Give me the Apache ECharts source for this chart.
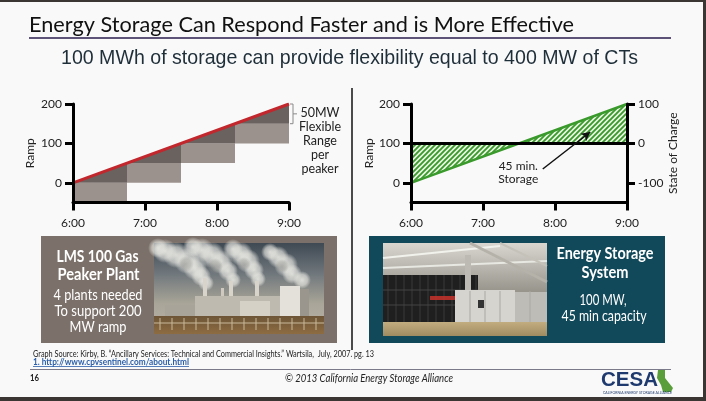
<!DOCTYPE html>
<html><head><meta charset="utf-8">
<script src="https://cdn.jsdelivr.net/npm/echarts@6/dist/echarts.min.js"></script>
<style>html,body{margin:0;padding:0;background:#f9f9f9}#c{width:706px;height:401px}</style>
</head><body><div id="c"></div>
<script>
// ---- data ----
const hours = [6, 7, 8, 9];
const rampTicks = [0, 100, 200];
const socTicks = [-100, 0, 100];
const peakerStart = [6, 6.75, 7.5, 8.25];
const peakerEnd = [6.75, 7.5, 8.25, 9];
const peakerLow = [-50, 0, 50, 100];
const peakerMid = [0, 50, 100, 150];
const peakerTop = [50, 100, 150, 200];
const rampTimes = [6, 9];
const rampValues = [0, 200];
const storageTimes = [6, 7.5, 9];
const storageRamp = [0, 100, 200];
const storageBaseline = 100;
const arrowFrom = [7.83, 35];
const arrowTo = [8.49, 129];
const flexRange = [150, 200];
const storageLabelAt = [7.49, 25];

// ---- helpers ----
const FONT = 'Lato';
const mctx = document.createElement('canvas').getContext('2d');
function txt(text, x, y, o) {
  const st = o.style || 'normal', wt = o.weight || 'normal', fam = o.family || FONT;
  let sx = 1;
  if (o.width) { mctx.font = `${st} ${wt} ${o.size}px ${fam}`; sx = o.width / mctx.measureText(text).width; }
  const al = o.align || 'left';
  return { type: 'text', x: x, y: y, scaleX: sx, z: o.z || 5, silent: true,
    style: { text: text, fill: o.color || '#222', fontSize: o.size, fontFamily: fam, fontWeight: wt, fontStyle: st,
      align: al, textAlign: al, verticalAlign: 'middle', textVerticalAlign: 'middle' } };
}
function rect(x, y, w, h, fill, z) { return { type: 'rect', silent: true, z: z || 3, shape: { x, y, width: w, height: h }, style: { fill } }; }
function puff(cx, cy, r, rgb, a) {
  return { type: 'circle', silent: true, z: 4, shape: { cx, cy, r },
    style: { fill: { type: 'radial', x: 0.5, y: 0.5, r: 0.5, colorStops: [
      { offset: 0, color: `rgba(${rgb},${a})` }, { offset: 0.6, color: `rgba(${rgb},${a * 0.7})` }, { offset: 1, color: `rgba(${rgb},0)` }] } } };
}
function ln(x1, y1, x2, y2, stroke, w, z) { return { type: 'line', silent: true, z: z || 4, shape: { x1, y1, x2, y2 }, style: { stroke, lineWidth: w } }; }
function vgrad(stops) { return { type: 'linear', x: 0, y: 0, x2: 0, y2: 1, colorStops: stops.map((c, i) => ({ offset: i / (stops.length - 1), color: c })) }; }

// hatch pattern
const pat = document.createElement('canvas'); pat.width = 5; pat.height = 5;
const pc = pat.getContext('2d');
pc.fillStyle = '#eaf4e4'; pc.fillRect(0, 0, 5, 5);
pc.strokeStyle = '#3a9a2c'; pc.lineWidth = 1.9;
pc.beginPath(); pc.moveTo(-1, 6); pc.lineTo(6, -1); pc.moveTo(-1, 1); pc.lineTo(1, -1); pc.moveTo(4, 6); pc.lineTo(6, 4); pc.stroke();
const hatch = { image: pat, repeat: 'repeat' };

// ---- slide graphics ----
const G = [];
// frame
G.push(rect(0, 0, 706, 2, '#3b3633', 1), rect(703, 0, 3, 401, '#3b3633', 1), rect(0, 397, 706, 4, '#3b3633', 1));
// title
G.push(txt('Energy Storage Can Respond Faster and is More Effective', 29, 25, { size: 22, color: '#111', width: 545 }));
G.push(ln(29, 38, 671, 38, '#5d5378', 2));
G.push(txt('100 MWh of storage can provide flexibility equal to 400 MW of CTs', 349.5, 58, { size: 21, family: 'Liberation Sans', color: '#1f2f3a', align: 'center', width: 577 }));
// divider
G.push(ln(352, 88, 352, 350, '#111', 1.5));
// left box
G.push(rect(41, 236, 296, 107, '#7b706a', 2));
// left photo (approximation)
G.push(rect(154, 243, 170, 91, vgrad(['#3f4953', '#6f777c', '#a9a598', '#b9b3a6']), 3));
// smoke plumes (soft puffs)
[[206, 283, 8], [201, 276, 10], [195, 268, 12], [187, 261, 13], [176, 255, 13], [165, 251, 12], [158, 248, 10],
 [233, 280, 8], [228, 271, 10], [221, 262, 12], [212, 255, 13], [202, 250, 12], [193, 247, 10],
 [258, 279, 8], [254, 270, 10], [248, 261, 12], [241, 254, 12], [233, 249, 10],
 [292, 274, 10], [286, 265, 12], [278, 257, 11], [302, 280, 9], [270, 252, 9]].forEach(c => G.push(puff(c[0], c[1], c[2], '232,232,226', 0.9)));
[[186, 264, 8], [215, 266, 8], [244, 264, 7], [282, 266, 7]].forEach(c => G.push(puff(c[0], c[1], c[2], '140,140,136', 0.5)));
G.push(rect(203, 278, 4, 40, '#d9d4ca', 5), rect(229, 281, 4, 37, '#d9d4ca', 5), rect(255, 281, 4, 37, '#d9d4ca', 5), rect(221, 288, 3, 30, '#cfc9bf', 5));
G.push(rect(165, 305, 30, 13, '#a8a49a', 5), rect(195, 296, 85, 22, '#bfbab0', 5), rect(240, 301, 30, 17, '#d6d1c6', 5),
  rect(280, 286, 20, 32, '#e4e1da', 5), rect(300, 289, 9, 29, '#9a968e', 5));
G.push(rect(154, 316, 170, 18, vgrad(['#6d5536', '#8d6c42']), 5));
G.push(ln(154, 323, 324, 323, '#c8b89a', 1, 6));
for (let x = 160; x < 324; x += 12) G.push(ln(x, 318, x, 330, '#c8b89a', 1, 6));
// left box text
G.push(txt('LMS 100 Gas', 97.5, 257, { size: 17, weight: 'bold', color: '#fff', align: 'center', width: 82 }));
G.push(txt('Peaker Plant', 98.5, 274.5, { size: 17, weight: 'bold', color: '#fff', align: 'center', width: 82 }));
G.push(txt('4 plants needed', 98, 295, { size: 15, color: '#fff', align: 'center', width: 89 }));
G.push(txt('To support 200', 98, 311, { size: 15, color: '#fff', align: 'center', width: 87 }));
G.push(txt('MW ramp', 98, 327, { size: 15, color: '#fff', align: 'center', width: 57 }));
// right box
G.push(rect(369, 236, 296, 107, '#11495a', 2));
G.push(rect(383, 243, 164, 93, vgrad(['#d9d7d0', '#9a978f', '#6c6862']), 3));
G.push(ln(383, 258, 500, 246, '#f2f2ec', 2, 4), ln(383, 268, 547, 261, '#e8e8e2', 2, 4), ln(470, 243, 547, 282, '#b5b2aa', 3, 4), ln(500, 243, 547, 266, '#c5c2ba', 2, 4));
G.push(rect(383, 275, 95, 50, '#1f1f1f', 5));
for (let x = 388; x < 478; x += 8) G.push(ln(x, 275, x, 325, '#3a3a3a', 1, 6));
G.push(ln(383, 290, 478, 290, '#454545', 1, 6), ln(383, 305, 478, 305, '#454545', 1, 6));
G.push(rect(430, 296, 40, 4, 'rgba(200,50,45,0.85)', 7));
G.push(rect(465, 255, 6, 40, '#bdbab3', 6));
G.push(rect(455, 290, 60, 35, '#d5d4cf', 7), rect(515, 292, 32, 32, '#bdbcb6', 7));
[470, 485, 500, 530].forEach(x => G.push(ln(x, 291, x, 324, '#a9a8a3', 1, 8)));
G.push(rect(478, 300, 6, 8, '#333', 8));
G.push(rect(383, 322, 164, 14, vgrad(['#c2ad80', '#a08a60']), 8));
G.push(txt('Energy Storage', 605, 254, { size: 17, weight: 'bold', color: '#fff', align: 'center', width: 97 }));
G.push(txt('System', 605, 273, { size: 17, weight: 'bold', color: '#fff', align: 'center', width: 47 }));
G.push(txt('100 MW,', 603, 300, { size: 15, color: '#fff', align: 'center', width: 47 }));
G.push(txt('45 min capacity', 604, 316, { size: 15, color: '#fff', align: 'center', width: 85 }));
// footer
G.push(txt('Graph Source: Kirby, B. \u201cAncillary Services: Technical and Commercial Insights.\u201d Wartsila,  July, 2007. pg. 13', 33, 354, { size: 9, color: '#222', width: 341 }));
G.push(txt('1. http://www.cpvsentinel.com/about.html', 33, 362, { size: 9, weight: 'bold', color: '#2a5ea8', width: 156 }));
G.push(ln(33, 366.5, 189, 366.5, '#2a5ea8', 0.8));
G.push(ln(30, 369.5, 671, 369.5, '#7a7a8a', 1));
G.push(txt('16', 30, 378, { size: 9, weight: 'bold', color: '#222', width: 9 }));
G.push(txt('\u00a9 2013 California Energy Storage Alliance', 369, 378, { size: 11, style: 'italic', color: '#222', align: 'center', width: 168 }));
G.push(txt('CESA', 601, 380, { size: 21, weight: 'bold', family: 'Liberation Sans', color: '#1e3a6e', width: 57 }));
G.push({ type: 'polygon', silent: true, z: 5, shape: { points: [[658, 370], [665, 370], [665, 378], [673, 388], [671, 392], [663, 392], [661, 385], [657, 378]] }, style: { fill: '#5a9e3c' } });
G.push(txt('CALIFORNIA ENERGY STORAGE ALLIANCE', 603, 393, { size: 4, color: '#1e3a6e', width: 69 }));

// ---- chart option ----
const axLine = { color: '#000', width: 3 };
const labelStyle = { fontFamily: FONT, fontSize: 12, color: '#222' };
function xAx(gi) {
  return { gridIndex: gi, type: 'value', min: 6, max: 9, interval: 1, z: 10,
    axisLine: { show: true, onZero: false, lineStyle: axLine },
    axisTick: { show: true, length: 8, customValues: hours, lineStyle: axLine },
    axisLabel: Object.assign({ margin: 15, customValues: hours, formatter: v => v + ':00' }, labelStyle),
    splitLine: { show: false } };
}
function yAx(gi, pos, min, max, ticks, name, gap) {
  return { gridIndex: gi, type: 'value', position: pos, min, max, z: 10,
    axisLine: { show: true, onZero: false, lineStyle: axLine },
    axisTick: { show: true, length: 8, customValues: ticks, lineStyle: axLine },
    axisLabel: Object.assign({ margin: 11, customValues: ticks }, labelStyle),
    splitLine: { show: false },
    name, nameLocation: 'middle', nameGap: gap,
    nameTextStyle: { fontFamily: FONT, fontSize: 12, color: '#222' } };
}

const option = {
  backgroundColor: '#f9f9f9',
  animation: false,
  graphic: G,
  grid: [
    { left: 73, top: 104, width: 216, height: 98.5 },
    { left: 411, top: 104, width: 216, height: 98.5 }
  ],
  xAxis: [xAx(0), xAx(1)],
  yAxis: [
    yAx(0, 'left', -50, 200, rampTicks, 'Ramp', 37),
    yAx(1, 'left', -50, 200, rampTicks, 'Ramp', 36),
    yAx(1, 'right', -150, 100, socTicks, 'State of Charge', 40)
  ],
  series: [
    { type: 'custom', name: 'peaker base', xAxisIndex: 0, yAxisIndex: 0, clip: false, z: 2,
      data: peakerStart.map((s, i) => [s, peakerEnd[i], peakerLow[i], peakerMid[i]]),
      encode: { x: [0, 1], y: [2, 3] },
      renderItem: (p, api) => {
        const a = api.coord([api.value(0), api.value(3)]);
        const b = api.coord([api.value(1), api.value(2)]);
        return { type: 'rect', shape: { x: a[0], y: a[1], width: b[0] - a[0], height: b[1] - a[1] }, style: { fill: '#9b928e' } };
      } },
    { type: 'custom', name: 'flexible range', xAxisIndex: 0, yAxisIndex: 0, clip: false, z: 2,
      data: peakerStart.map((s, i) => [s, peakerEnd[i], peakerMid[i], peakerTop[i]]),
      encode: { x: [0, 1], y: [2, 3] },
      renderItem: (p, api) => {
        const pts = [api.coord([api.value(0), api.value(2)]), api.coord([api.value(1), api.value(2)]), api.coord([api.value(1), api.value(3)])];
        return { type: 'polygon', shape: { points: pts }, style: { fill: '#6a625e' } };
      } },
    { type: 'line', name: 'ramp', xAxisIndex: 0, yAxisIndex: 0, z: 4, symbol: 'none',
      data: rampTimes.map((t, i) => [t, rampValues[i]]), lineStyle: { color: '#c1272d', width: 3 } },
    { type: 'custom', name: 'bracket', xAxisIndex: 0, yAxisIndex: 0, clip: false, z: 4,
      data: [[rampTimes[1], flexRange[0], flexRange[1]]], encode: { x: 0, y: [1, 2] },
      renderItem: (p, api) => {
        const top = api.coord([api.value(0), api.value(2)]);
        const bot = api.coord([api.value(0), api.value(1)]);
        const bx = top[0] + 4, my = (top[1] + bot[1]) / 2;
        return { type: 'group', children: [
          { type: 'polyline', shape: { points: [[bx - 3, top[1]], [bx, top[1]], [bx, bot[1]], [bx - 3, bot[1]]] }, style: { stroke: '#8a8a8a', lineWidth: 1, fill: null } },
          { type: 'line', shape: { x1: bx, y1: my, x2: bx + 4, y2: my }, style: { stroke: '#8a8a8a', lineWidth: 1 } },
          { type: 'text', x: bx + 27, y: top[1] + 2, style: { text: '50MW\nFlexible\nRange\nper\npeaker', fill: '#222', fontFamily: FONT, fontSize: 12.5, lineHeight: 14, align: 'center', verticalAlign: 'top' } }
        ] };
      } },
    { type: 'custom', name: 'storage', xAxisIndex: 1, yAxisIndex: 1, clip: false, z: 2,
      data: storageTimes.map((t, i) => [t, storageRamp[i]]), encode: { x: 0, y: 1 },
      renderItem: (p, api) => {
        const i = p.dataIndex;
        if (i >= storageTimes.length - 1) return null;
        const pts = [api.coord([storageTimes[i], storageRamp[i]]), api.coord([storageTimes[i + 1], storageRamp[i + 1]]),
          api.coord([storageTimes[i + 1], storageBaseline]), api.coord([storageTimes[i], storageBaseline])];
        return { type: 'polygon', shape: { points: pts }, style: { fill: hatch, stroke: '#3a9a2c', lineWidth: 1 } };
      } },
    { type: 'line', name: 'storage ramp', xAxisIndex: 1, yAxisIndex: 1, z: 3, symbol: 'none',
      data: rampTimes.map((t, i) => [t, rampValues[i]]), lineStyle: { color: '#3a9a2c', width: 2.5 } },
    { type: 'line', name: 'baseline', xAxisIndex: 1, yAxisIndex: 1, z: 4, symbol: 'none',
      data: rampTimes.map(t => [t, storageBaseline]), lineStyle: { color: '#000', width: 3 },
      markLine: { silent: true, symbol: ['none', 'arrow'], symbolSize: [7, 9], animation: false,
        lineStyle: { color: '#111', width: 1.5, type: 'solid' }, label: { show: false },
        data: [[{ coord: arrowFrom }, { coord: arrowTo }]] } },
    { type: 'custom', name: 'storage label', xAxisIndex: 1, yAxisIndex: 1, clip: false, z: 5,
      data: [storageLabelAt], encode: { x: 0, y: 1 },
      renderItem: (p, api) => {
        const c = api.coord([api.value(0), api.value(1)]);
        return { type: 'text', x: c[0], y: c[1], style: { text: '45 min.\nStorage', fill: '#222', fontFamily: FONT, fontSize: 12, lineHeight: 13, align: 'center', verticalAlign: 'middle' } };
      } }
  ]
};
const chart = echarts.init(document.getElementById('c'));
chart.setOption(option);
</script></body></html>
